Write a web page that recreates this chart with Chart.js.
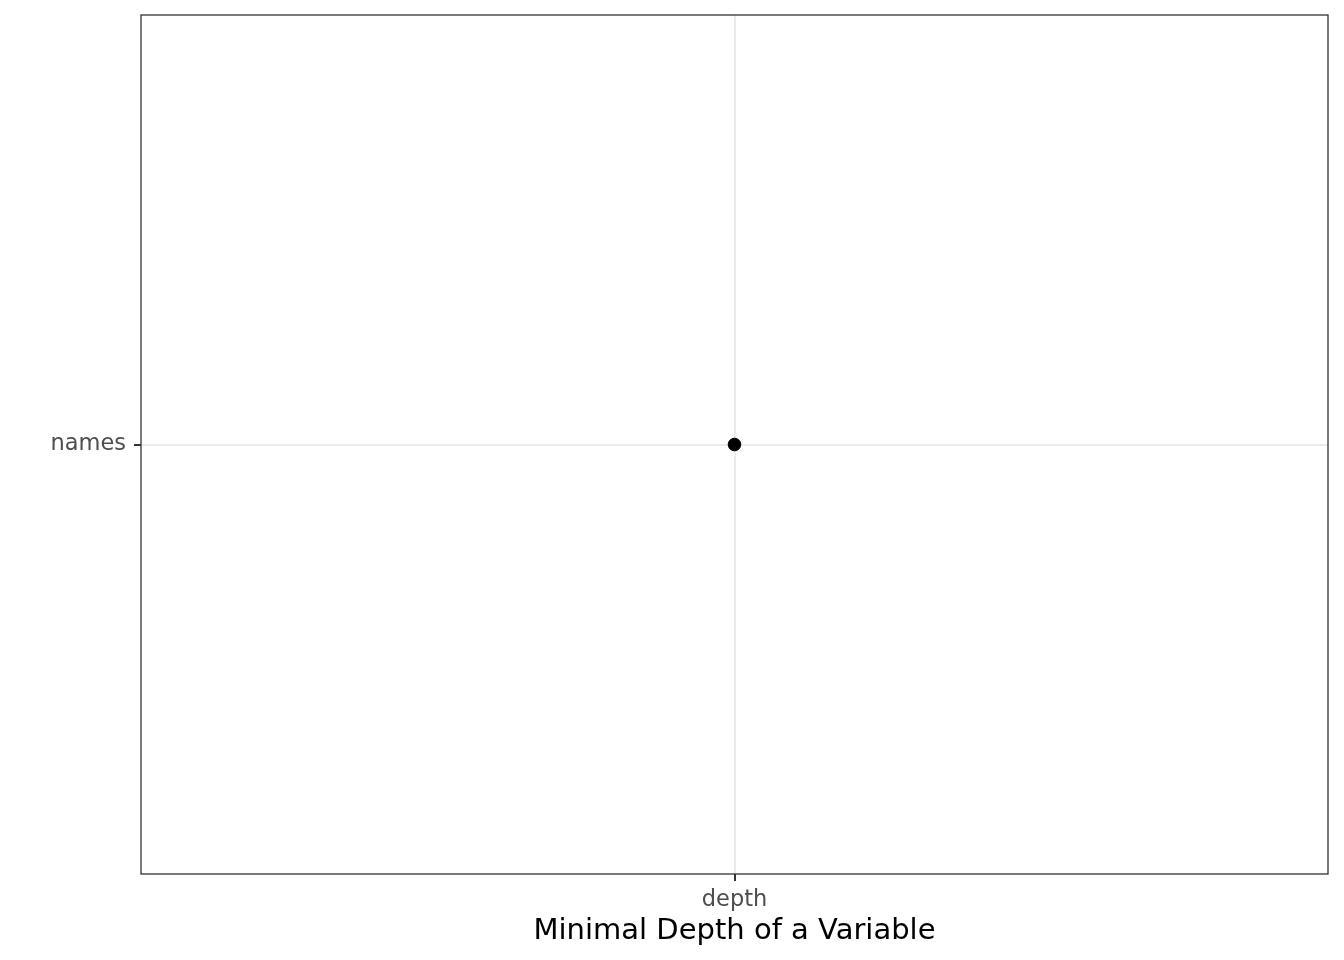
<!DOCTYPE html>
<html>
<head>
<meta charset="utf-8">
<script src="https://cdn.jsdelivr.net/npm/chart.js@4/dist/chart.umd.min.js"></script>
<style>
  html, body { margin: 0; padding: 0; background: #fff; }
  #wrap { width: 1344px; height: 960px; }
</style>
</head>
<body>
<div id="wrap"><canvas id="depthChart"></canvas></div>
<script>
// Data
const xLabels = ['depth'];
const yLabels = ['names'];
const pointsX = ['depth'];
const pointsY = ['names'];

const points = pointsX.map((x, i) => ({ x: x, y: pointsY[i] }));

// panel border like ggplot theme_bw
const panelBorder = {
  id: 'panelBorder',
  afterDatasetsDraw(chart) {
    const { ctx, chartArea: a } = chart;
    ctx.save();
    ctx.strokeStyle = '#333333';
    ctx.lineWidth = 1.3;
    ctx.strokeRect(a.left, a.top, a.right - a.left, a.bottom - a.top);
    ctx.restore();
  }
};

const ctx = document.getElementById('depthChart').getContext('2d');
const depthChart = new Chart(ctx, {
  type: 'scatter',
  data: {
    datasets: [{
      label: 'depth',
      data: points,
      backgroundColor: '#000',
      borderColor: '#000',
      pointRadius: 6.3,
      pointHoverRadius: 6.3
    }]
  },
  options: {
    responsive: true,
    maintainAspectRatio: false,
    animation: false,
    layout: { autoPadding: false, padding: { top: 15, right: 16, left: 0, bottom: 0 } },
    plugins: {
      legend: { display: false },
      tooltip: { enabled: false }
    },
    scales: {
      x: {
        type: 'category',
        labels: xLabels,
        offset: true,
        grid: { color: '#EBEBEB', lineWidth: 2, tickColor: '#333333', tickWidth: 2, tickLength: 7, offset: false },
        border: { display: false },
        ticks: { color: '#4D4D4D', font: { family: 'DejaVu Sans', size: 22.5 }, padding: 6 },
        title: {
          display: true,
          text: 'Minimal Depth of a Variable',
          color: '#000',
          font: { family: 'DejaVu Sans', size: 29 },
          padding: { top: 0, bottom: 11 }
        },
        afterFit(scale) {
          scale.height = 86;
          scale.paddingLeft = 0;
          scale.paddingRight = 0;
        }
      },
      y: {
        type: 'category',
        labels: yLabels,
        offset: true,
        grid: { color: '#EBEBEB', lineWidth: 2, tickColor: '#333333', tickWidth: 2, tickLength: 7, offset: false },
        border: { display: false },
        ticks: { color: '#4D4D4D', font: { family: 'DejaVu Sans', size: 22.5 }, padding: 8 },
        afterFit(scale) {
          scale.width = 141;
          scale.paddingTop = 0;
          scale.paddingBottom = 0;
        }
      }
    }
  },
  plugins: [panelBorder]
});
</script>
</body>
</html>
